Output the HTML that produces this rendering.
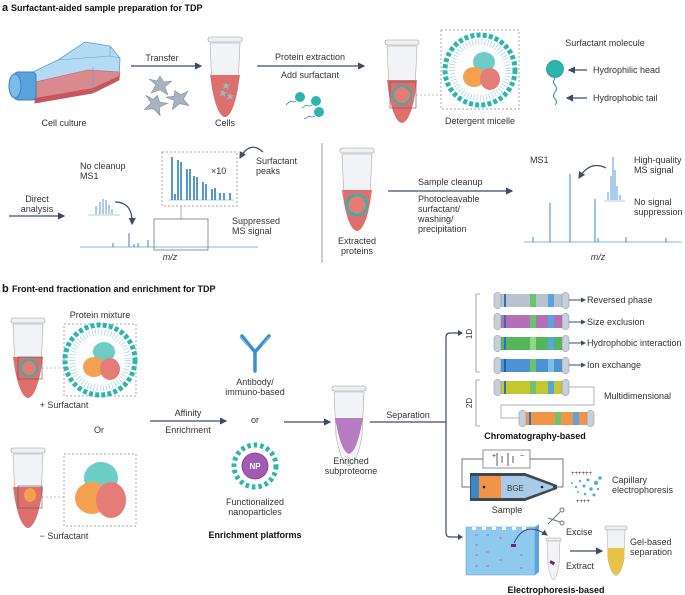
<!DOCTYPE html>
<html><head><meta charset="utf-8"><style>
html,body{margin:0;padding:0;background:#fff;}
svg{display:block;font-family:"Liberation Sans",sans-serif;}
text{font-size:9px;fill:#333;}
.b{font-weight:bold;fill:#111;}
</style></head><body>
<svg width="685" height="595" viewBox="0 0 685 595" xmlns="http://www.w3.org/2000/svg">
<defs>
<marker id="ar" markerWidth="6" markerHeight="6" refX="5" refY="3" orient="auto"><path d="M0,0 L6,3 L0,6 z" fill="#3c4a6b"/></marker>
<g id="tube">
 <rect x="-17" y="0" width="34" height="5" rx="2" fill="#eef0f2" stroke="#999" stroke-width="0.6"/>
 <path d="M-15,6 L15,6 L13,50 Q8,78 0,80 Q-8,78 -13,50 Z" fill="#f1f3f6" stroke="#aaa" stroke-width="0.6"/>
</g>
<g id="micelle">
 <circle r="35" fill="none" stroke="#2bb5ad" stroke-width="5" stroke-dasharray="4 2.2"/>
 <circle r="28" fill="none" stroke="#8ccfd0" stroke-width="6" stroke-dasharray="0.6 2.5"/>
 <ellipse cx="4" cy="-8" rx="11" ry="10" fill="#6dcdc6"/>
 <ellipse cx="-6" cy="7" rx="11" ry="10" fill="#f4a04f"/>
 <ellipse cx="10" cy="9" rx="10" ry="11" fill="#e47c78"/>
</g>
<path id="cell" d="M0,-9 L4,-3 L12,-4 L5,2 L8,10 L0,5 L-9,8 L-4,0 L-11,-6 L-3,-4 Z" fill="#aab2bf" stroke="#7a8291" stroke-width="0.5"/>
</defs>

<!-- PANEL A -->
<text x="2" y="11" class="b" style="font-size:11px">a</text>
<text x="11" y="11" class="b">Surfactant-aided sample preparation for TDP</text>

<!-- flask -->
<path d="M33,72 L58,60 L85,42 L110,46 L120,58 L119,80 L93,93 L35,103 Z" fill="#b4dbf3" stroke="#5a9ed3" stroke-width="0.8"/>
<path d="M35,82 L88,70 L120,72 L119,80 L93,93 L35,103 Z" fill="#d98a8f" stroke="#c15b60" stroke-width="0.6"/>
<path d="M35,98 L93,88 L119,76 L119,80 L93,93 L35,103 Z" fill="#c9555c"/>
<path d="M58,60 L110,56 L120,58 M110,46 L110,56 M93,93 L93,67" fill="none" stroke="#5a9ed3" stroke-width="0.6"/>
<rect x="14" y="72" width="22" height="28" rx="4" fill="#5aa4de" stroke="#3a7fc0"/>
<ellipse cx="15" cy="86" rx="6" ry="12" fill="#7bbbe9" stroke="#3a7fc0"/>
<text x="64" y="126" text-anchor="middle">Cell culture</text>

<line x1="131" y1="66" x2="201" y2="66" stroke="#3c4a6b" stroke-width="1.2" marker-end="url(#ar)"/>
<text x="162" y="61" text-anchor="middle">Transfer</text>
<use href="#cell" x="160" y="85"/>
<use href="#cell" x="155" y="104" transform="rotate(15 155 104)"/>
<use href="#cell" x="178" y="99" transform="rotate(-20 178 99)"/>

<use href="#tube" x="225" y="37"/>
<path d="M210,75 L240,75 L238,87 Q233,116 225,117 Q217,116 212,87 Z" fill="#df6f6c"/>
<g transform="translate(226,86) scale(0.4)"><use href="#cell" x="0" y="0"/><use href="#cell" x="-8" y="18"/><use href="#cell" x="10" y="26"/></g>
<text x="225" y="126" text-anchor="middle">Cells</text>

<line x1="257" y1="66" x2="364" y2="66" stroke="#3c4a6b" stroke-width="1.2" marker-end="url(#ar)"/>
<text x="310" y="60" text-anchor="middle">Protein extraction</text>
<text x="310" y="78" text-anchor="middle">Add surfactant</text>
<g fill="#2bb5ad"><circle cx="300" cy="97" r="5"/><circle cx="316" cy="101" r="5"/><circle cx="319" cy="112" r="5"/></g>
<g stroke="#2b8ca8" fill="none" stroke-width="0.8"><path d="M296,101 q-3,2 -5,0 q-3,2 -5,4"/><path d="M312,105 q-3,2 -6,0 q-2,2 -4,3"/><path d="M315,116 q-3,2 -6,0 q-2,2 -5,3"/></g>

<use href="#tube" x="402" y="40"/>
<path d="M387,80 L417,80 L415,95 Q410,122 402,123 Q394,122 389,95 Z" fill="#df6f6c"/>
<circle cx="402" cy="95" r="9" fill="#e77b74" stroke="#2bb5ad" stroke-width="2"/>
<rect x="390" y="82" width="26" height="26" fill="none" stroke="#555" stroke-width="0.6"/>
<line x1="416" y1="95" x2="441" y2="95" stroke="#888" stroke-dasharray="2 2" stroke-width="0.6"/>
<rect x="441" y="30" width="78" height="79" fill="none" stroke="#888" stroke-dasharray="2 2" stroke-width="0.7"/>
<use href="#micelle" x="480" y="70"/>
<text x="480" y="124" text-anchor="middle">Detergent micelle</text>

<text x="605" y="46" text-anchor="middle">Surfactant molecule</text>
<circle cx="555" cy="69" r="8.5" fill="#2bb5ad" stroke="#1c8f88" stroke-width="0.7"/>
<path d="M555,78 q-3,4 0,7 q3,4 0,7 q-3,4 0,7 q3,3 0,6" fill="none" stroke="#2b8ca8" stroke-width="1"/>
<line x1="587" y1="70" x2="569" y2="70" stroke="#3c4a6b" stroke-width="1.2" marker-end="url(#ar)"/>
<line x1="587" y1="98" x2="567" y2="98" stroke="#3c4a6b" stroke-width="1.2" marker-end="url(#ar)"/>
<text x="593" y="73">Hydrophilic head</text>
<text x="593" y="101">Hydrophobic tail</text>

<!-- row 2 left -->
<text x="80" y="169">No cleanup</text>
<text x="80" y="179">MS1</text>
<text x="37" y="202" text-anchor="middle">Direct</text>
<text x="37" y="212" text-anchor="middle">analysis</text>
<line x1="9" y1="216" x2="64" y2="216" stroke="#3c4a6b" stroke-width="1.2" marker-end="url(#ar)"/>
<g stroke="#5a9bd5" stroke-width="1">
<line x1="96" y1="214" x2="96" y2="206"/><line x1="100" y1="214" x2="100" y2="202"/><line x1="103" y1="214" x2="103" y2="199"/><line x1="106" y1="214" x2="106" y2="200"/><line x1="109" y1="214" x2="109" y2="205"/><line x1="112" y1="214" x2="112" y2="209"/>
</g>
<line x1="88" y1="215" x2="120" y2="215" stroke="#5a9bd5" stroke-width="0.6"/>
<path d="M115,202 Q133,202 132,224" fill="none" stroke="#3c4a6b" stroke-width="1.2" marker-end="url(#ar)"/>
<line x1="80" y1="247" x2="258" y2="247" stroke="#5a9bd5" stroke-width="0.8"/>
<g stroke="#3b86c8" stroke-width="1">
<line x1="113" y1="247" x2="113" y2="243"/><line x1="129" y1="247" x2="129" y2="233"/><line x1="134" y1="247" x2="134" y2="244"/><line x1="138" y1="247" x2="138" y2="243"/><line x1="148" y1="247" x2="148" y2="240"/>
</g>
<rect x="154" y="219" width="54" height="31" fill="none" stroke="#666" stroke-width="0.7"/>
<line x1="181" y1="206" x2="181" y2="219" stroke="#888" stroke-width="0.7"/>
<rect x="162" y="152" width="75" height="54" fill="none" stroke="#888" stroke-dasharray="2 2" stroke-width="0.7"/>
<g stroke="#2f7fc4" stroke-width="1.6">
<line x1="172" y1="200" x2="172" y2="157"/><line x1="175" y1="200" x2="175" y2="194"/><line x1="178" y1="200" x2="178" y2="160"/><line x1="181" y1="200" x2="181" y2="162"/><line x1="187" y1="200" x2="187" y2="169"/><line x1="190" y1="200" x2="190" y2="169"/><line x1="194" y1="200" x2="194" y2="176"/><line x1="197" y1="200" x2="197" y2="177"/><line x1="203" y1="200" x2="203" y2="182"/><line x1="206" y1="200" x2="206" y2="184"/><line x1="212" y1="200" x2="212" y2="189"/><line x1="215" y1="200" x2="215" y2="188"/><line x1="220" y1="200" x2="220" y2="193"/><line x1="224" y1="200" x2="224" y2="193"/><line x1="230" y1="200" x2="230" y2="193"/>
</g>
<line x1="168" y1="200" x2="234" y2="200" stroke="#5a9bd5" stroke-width="0.6"/>
<text x="211" y="174">×10</text>
<path d="M263,152 Q250,140 240,158" fill="none" stroke="#3c4a6b" stroke-width="1.2" marker-end="url(#ar)"/>
<text x="256" y="164">Surfactant</text>
<text x="256" y="174">peaks</text>
<text x="232" y="224">Suppressed</text>
<text x="232" y="234">MS signal</text>
<text x="170" y="260" text-anchor="middle" font-style="italic">m/z</text>

<line x1="322" y1="143" x2="322" y2="263" stroke="#777" stroke-width="0.7"/>

<!-- row 2 right -->
<use href="#tube" x="357" y="148"/>
<path d="M342,190 L372,190 L370,203 Q365,230 357,231 Q349,230 344,203 Z" fill="#df6f6c"/>
<circle cx="357" cy="205" r="10" fill="#e77b74" stroke="#2bb5ad" stroke-width="2.5"/>
<text x="357" y="244" text-anchor="middle">Extracted</text>
<text x="357" y="254" text-anchor="middle">proteins</text>
<line x1="388" y1="191" x2="512" y2="191" stroke="#3c4a6b" stroke-width="1.2" marker-end="url(#ar)"/>
<text x="418" y="185">Sample cleanup</text>
<text x="418" y="202">Photocleavable</text>
<text x="418" y="212">surfactant/</text>
<text x="418" y="222">washing/</text>
<text x="418" y="232">precipitation</text>
<text x="530" y="163">MS1</text>
<line x1="524" y1="242" x2="682" y2="242" stroke="#5a9bd5" stroke-width="0.8"/>
<g stroke="#3b86c8" stroke-width="1">
<line x1="550" y1="242" x2="550" y2="203"/><line x1="570" y1="242" x2="570" y2="174"/><line x1="595" y1="242" x2="595" y2="199"/><line x1="533" y1="242" x2="533" y2="237"/><line x1="626" y1="242" x2="626" y2="237"/><line x1="666" y1="242" x2="666" y2="238"/><line x1="598" y1="242" x2="598" y2="238"/>
</g>
<g stroke="#5a9bd5" stroke-width="1">
<line x1="608" y1="200" x2="608" y2="192"/><line x1="611" y1="200" x2="611" y2="176"/><line x1="613" y1="200" x2="613" y2="157"/><line x1="615" y1="200" x2="615" y2="170"/><line x1="617" y1="200" x2="617" y2="186"/><line x1="620" y1="200" x2="620" y2="195"/>
</g>
<line x1="604" y1="201" x2="625" y2="201" stroke="#5a9bd5" stroke-width="0.6"/>
<path d="M606,168 Q590,160 579,178" fill="none" stroke="#3c4a6b" stroke-width="1.2" marker-end="url(#ar)"/>
<text x="634" y="163">High-quality</text>
<text x="634" y="173">MS signal</text>
<text x="634" y="205">No signal</text>
<text x="634" y="215">suppression</text>
<text x="598" y="260" text-anchor="middle" font-style="italic">m/z</text>

<!-- PANEL B -->
<text x="2" y="292" class="b" style="font-size:11px">b</text>
<text x="12" y="292" class="b">Front-end fractionation and enrichment for TDP</text>

<use href="#tube" x="28" y="318"/>
<path d="M13,357 L43,357 L41,370 Q36,396 28,398 Q20,396 15,370 Z" fill="#df6f6c"/>
<circle cx="29" cy="368" r="8" fill="#e77b74" stroke="#2bb5ad" stroke-width="2"/>
<rect x="18" y="357" width="24" height="22" fill="none" stroke="#555" stroke-width="0.6"/>
<line x1="42" y1="368" x2="64" y2="368" stroke="#888" stroke-dasharray="2 2" stroke-width="0.6"/>
<rect x="64" y="324" width="72" height="72" fill="none" stroke="#888" stroke-dasharray="2 2" stroke-width="0.7"/>
<use href="#micelle" x="100" y="360"/>
<text x="100" y="318" text-anchor="middle">Protein mixture</text>
<text x="64" y="408" text-anchor="middle">+ Surfactant</text>
<text x="99" y="433" text-anchor="middle">Or</text>

<use href="#tube" x="28" y="448"/>
<path d="M13,487 L43,487 L41,500 Q36,526 28,528 Q20,526 15,500 Z" fill="#df6f6c"/>
<ellipse cx="30" cy="495" rx="6" ry="7" fill="#f4a04f"/>
<rect x="18" y="486" width="24" height="22" fill="none" stroke="#555" stroke-width="0.6"/>
<line x1="42" y1="497" x2="64" y2="497" stroke="#888" stroke-dasharray="2 2" stroke-width="0.6"/>
<rect x="64" y="454" width="72" height="72" fill="none" stroke="#888" stroke-dasharray="2 2" stroke-width="0.7"/>
<ellipse cx="101" cy="478" rx="17" ry="16" fill="#6dcdc6"/>
<ellipse cx="92" cy="498" rx="17" ry="16" fill="#f4a04f"/>
<ellipse cx="111" cy="500" rx="15" ry="18" fill="#e47c78"/>
<text x="64" y="539" text-anchor="middle">− Surfactant</text>

<line x1="150" y1="421" x2="226" y2="421" stroke="#3c4a6b" stroke-width="1.2" marker-end="url(#ar)"/>
<text x="188" y="416" text-anchor="middle">Affinity</text>
<text x="188" y="433" text-anchor="middle">Enrichment</text>

<g stroke="#3b8fd0" stroke-width="3.5" fill="none" stroke-linecap="round">
<path d="M255,371 L255,352 L242,336"/><path d="M255,352 L269,336"/></g>
<g stroke="#7cbde9" stroke-width="1.5" fill="none"><path d="M247,345 L240,337"/><path d="M263,345 L270,337"/></g>
<text x="255" y="385" text-anchor="middle">Antibody/</text>
<text x="255" y="395" text-anchor="middle">immuno-based</text>
<text x="255" y="423" text-anchor="middle">or</text>
<circle cx="255" cy="466" r="21" fill="none" stroke="#2bb5ad" stroke-width="5" stroke-dasharray="3.5 3"/>
<circle cx="255" cy="466" r="13" fill="#a25ab2" stroke="#7e3a90" stroke-width="0.8"/>
<text x="255" y="469" text-anchor="middle" style="fill:#fff;font-weight:bold;font-size:8px">NP</text>
<text x="255" y="505" text-anchor="middle">Functionalized</text>
<text x="255" y="515" text-anchor="middle">nanoparticles</text>
<text x="255" y="538" text-anchor="middle" class="b">Enrichment platforms</text>

<line x1="284" y1="422" x2="330" y2="422" stroke="#3c4a6b" stroke-width="1.2" marker-end="url(#ar)"/>
<use href="#tube" x="349" y="386"/>
<path d="M335,418 L363,418 L361,428 Q356,452 349,454 Q342,452 337,428 Z" fill="#b57dc0"/>
<text x="351" y="464" text-anchor="middle">Enriched</text>
<text x="351" y="474" text-anchor="middle">subproteome</text>
<line x1="370" y1="422" x2="446" y2="422" stroke="#3c4a6b" stroke-width="1.2"/>
<text x="408" y="418" text-anchor="middle">Separation</text>
<path d="M462,333 L450,333 Q446,333 446,337 L446,533 Q446,537 450,537 L462,537" fill="none" stroke="#3c4a6b" stroke-width="1.2"/>
<path d="M458,330 L463,333 L458,336 z M458,534 L463,537 L458,540 z" fill="#3c4a6b"/>

<path d="M480,294 L476,294 L476,372 L480,372" fill="none" stroke="#666" stroke-width="0.6"/>
<path d="M480,380 L476,380 L476,426 L480,426" fill="none" stroke="#666" stroke-width="0.6"/>
<text x="472" y="334" transform="rotate(-90 472 334)" text-anchor="middle" style="font-size:8px">1D</text>
<text x="472" y="403" transform="rotate(-90 472 403)" text-anchor="middle" style="font-size:8px">2D</text>

<g>
<g><rect x="498" y="294" width="67" height="13" fill="#b9c2cf"/><rect x="504" y="294" width="2" height="13" fill="#2f6fb7"/><rect x="530" y="294" width="6" height="13" fill="#6cc26d"/><rect x="548" y="294" width="6" height="13" fill="#5aa4de"/><rect x="494" y="292.5" width="7" height="16" rx="3" fill="#c6d0da" stroke="#889" stroke-width="0.5"/><rect x="562" y="292.5" width="7" height="16" rx="3" fill="#c6d0da" stroke="#889" stroke-width="0.5"/></g>
<g><rect x="498" y="315" width="67" height="13" fill="#b56fb5"/><rect x="504" y="315" width="2" height="13" fill="#2f6fb7"/><rect x="530" y="315" width="6" height="13" fill="#6cc26d"/><rect x="548" y="315" width="6" height="13" fill="#5aa4de"/><rect x="494" y="313.5" width="7" height="16" rx="3" fill="#c6d0da" stroke="#889" stroke-width="0.5"/><rect x="562" y="313.5" width="7" height="16" rx="3" fill="#c6d0da" stroke="#889" stroke-width="0.5"/></g>
<g><rect x="498" y="337" width="67" height="13" fill="#55b55a"/><rect x="504" y="337" width="2" height="13" fill="#2f6fb7"/><rect x="530" y="337" width="6" height="13" fill="#8fd68a"/><rect x="548" y="337" width="6" height="13" fill="#5aa4de"/><rect x="494" y="335.5" width="7" height="16" rx="3" fill="#c6d0da" stroke="#889" stroke-width="0.5"/><rect x="562" y="335.5" width="7" height="16" rx="3" fill="#c6d0da" stroke="#889" stroke-width="0.5"/></g>
<g><rect x="498" y="359" width="67" height="13" fill="#4a94d3"/><rect x="504" y="359" width="2" height="13" fill="#1f5fa7"/><rect x="530" y="359" width="6" height="13" fill="#6cc26d"/><rect x="548" y="359" width="6" height="13" fill="#7cbde9"/><rect x="494" y="357.5" width="7" height="16" rx="3" fill="#c6d0da" stroke="#889" stroke-width="0.5"/><rect x="562" y="357.5" width="7" height="16" rx="3" fill="#c6d0da" stroke="#889" stroke-width="0.5"/></g>
<g><rect x="498" y="381" width="67" height="13" fill="#c4c72f"/><rect x="504" y="381" width="2" height="13" fill="#2f6fb7"/><rect x="530" y="381" width="6" height="13" fill="#6cc26d"/><rect x="548" y="381" width="6" height="13" fill="#5aa4de"/><rect x="494" y="379.5" width="7" height="16" rx="3" fill="#c6d0da" stroke="#889" stroke-width="0.5"/><rect x="562" y="379.5" width="7" height="16" rx="3" fill="#c6d0da" stroke="#889" stroke-width="0.5"/></g>
<g><rect x="523" y="412" width="67" height="13" fill="#f29447"/><rect x="529" y="412" width="2" height="13" fill="#2f6fb7"/><rect x="555" y="412" width="6" height="13" fill="#6cc26d"/><rect x="573" y="412" width="6" height="13" fill="#5aa4de"/><rect x="519" y="410.5" width="7" height="16" rx="3" fill="#c6d0da" stroke="#889" stroke-width="0.5"/><rect x="587" y="410.5" width="7" height="16" rx="3" fill="#c6d0da" stroke="#889" stroke-width="0.5"/></g>
</g>
<g stroke="#3c4a6b" stroke-width="1"><line x1="569" y1="300" x2="582" y2="300"/><line x1="569" y1="322" x2="582" y2="322"/><line x1="569" y1="343" x2="582" y2="343"/><line x1="569" y1="365" x2="582" y2="365"/></g>
<g fill="#3c4a6b"><path d="M581,297.5 L586,300 L581,302.5z"/><path d="M581,319.5 L586,322 L581,324.5z"/><path d="M581,340.5 L586,343 L581,345.5z"/><path d="M581,362.5 L586,365 L581,367.5z"/></g>
<text x="587" y="303">Reversed phase</text>
<text x="587" y="325">Size exclusion</text>
<text x="587" y="346">Hydrophobic interaction</text>
<text x="587" y="368">Ion exchange</text>
<path d="M569,387 L594,387 L594,405 L501,405 L501,418 L519,418" fill="none" stroke="#999" stroke-width="0.7"/>
<text x="604" y="399">Multidimensional</text>
<text x="535" y="439" text-anchor="middle" class="b">Chromatography-based</text>

<rect x="483" y="450" width="47" height="18" fill="#fff" stroke="#666" stroke-width="0.7"/>
<text x="492" y="458" style="font-size:7px">+</text><text x="520" y="458" style="font-size:7px">−</text>
<g stroke="#333" stroke-width="0.8"><line x1="497" y1="453" x2="497" y2="466"/><line x1="502" y1="456" x2="502" y2="463"/><line x1="508" y1="453" x2="508" y2="466"/><line x1="513" y1="456" x2="513" y2="463"/></g>
<path d="M483,459 L462,459 L462,487 L484,487" fill="none" stroke="#444" stroke-width="0.7"/>
<path d="M530,459 L563,459 L563,487 L542,487" fill="none" stroke="#444" stroke-width="0.7"/>
<path d="M470,473 L525,473 L557,485 L557,489 L525,501 L470,501 Z" fill="#3f4752"/>
<path d="M471,476 L525,476 L553,486 L553,488 L525,498 L471,498 Z" fill="#a9cbe8"/>
<rect x="471" y="476" width="8" height="22" fill="#3f86c8"/>
<rect x="479" y="476" width="22" height="22" fill="#f29447"/>
<circle cx="484" cy="487" r="1.3" fill="#222"/><circle cx="542" cy="487" r="1.3" fill="#222"/>
<text x="507" y="491" style="font-size:8px">BGE</text>
<g fill="#5aa4de">
<circle cx="572" cy="483" r="1"/><circle cx="576" cy="487" r="1.2"/><circle cx="580" cy="481" r="1.2"/><circle cx="584" cy="486" r="1.5"/><circle cx="588" cy="480" r="1.5"/><circle cx="591" cy="489" r="1.7"/><circle cx="596" cy="483" r="2"/><circle cx="600" cy="478" r="1.7"/><circle cx="578" cy="492" r="1"/><circle cx="585" cy="494" r="1.3"/><circle cx="594" cy="495" r="1.5"/><circle cx="598" cy="489" r="1.2"/>
</g>
<text x="571" y="475" style="font-size:6px">++++++</text><text x="576" y="503" style="font-size:6px">++++</text>
<text x="612" y="483">Capillary</text>
<text x="612" y="493">electrophoresis</text>
<text x="507" y="513" text-anchor="middle">Sample</text>

<path d="M466,527 L535,527 L535,575 L466,575 Z" fill="#8ec9ee" stroke="#5aa4de" stroke-width="0.6"/>
<path d="M535,527 L539,524 L539,572 L535,575 Z" fill="#5aa4de"/>
<g fill="#fff"><rect x="472" y="527" width="4" height="3"/><rect x="482" y="527" width="4" height="3"/><rect x="492" y="527" width="4" height="3"/><rect x="502" y="527" width="4" height="3"/><rect x="512" y="527" width="4" height="3"/><rect x="522" y="527" width="4" height="3"/></g>
<g stroke="#c04fa7" stroke-width="0.8">
<line x1="475" y1="535" x2="478" y2="535"/><line x1="486" y1="535" x2="489" y2="535"/><line x1="499" y1="538" x2="502" y2="538"/><line x1="475" y1="545" x2="478" y2="545"/><line x1="486" y1="552" x2="489" y2="552"/><line x1="475" y1="555" x2="478" y2="555"/><line x1="499" y1="560" x2="502" y2="560"/><line x1="475" y1="566" x2="478" y2="566"/><line x1="486" y1="566" x2="489" y2="566"/><line x1="520" y1="555" x2="523" y2="555"/><line x1="520" y1="568" x2="523" y2="568"/>
</g>
<rect x="511" y="544" width="5" height="3" fill="#6b2a70"/>
<path d="M514,543 Q525,520 547,535" fill="none" stroke="#3c4a6b" stroke-width="1" marker-end="url(#ar)"/>
<g stroke="#6b7585" stroke-width="1" fill="none"><line x1="548" y1="524" x2="560" y2="512"/><line x1="548" y1="518" x2="560" y2="522"/><circle cx="562" cy="510" r="2"/><circle cx="562" cy="523" r="2"/></g>
<text x="566" y="535">Excise</text>
<rect x="546" y="538" width="15" height="3" rx="1" fill="#eee" stroke="#999" stroke-width="0.5"/>
<path d="M547,541 L560,541 L559,565 Q556,580 553.5,580 Q551,580 548,565 Z" fill="#f1f3f6" stroke="#aaa" stroke-width="0.5"/>
<rect x="550" y="561" width="5" height="3" fill="#6b2a70" transform="rotate(30 552 562)"/>
<text x="566" y="569">Extract</text>
<line x1="570" y1="551" x2="602" y2="551" stroke="#3c4a6b" stroke-width="1.2" marker-end="url(#ar)"/>
<rect x="605" y="526" width="22" height="4" rx="1.5" fill="#eef0f2" stroke="#999" stroke-width="0.5"/>
<path d="M607,530 L625,530 L624,560 Q620,576 616,576 Q612,576 608,560 Z" fill="#f1f3f6" stroke="#aaa" stroke-width="0.5"/>
<path d="M607.5,548 L624.5,548 L624,560 Q620,575 616,575 Q612,575 608,560 Z" fill="#e9c24a"/>
<text x="630" y="545">Gel-based</text>
<text x="630" y="555">separation</text>
<text x="556" y="593" text-anchor="middle" class="b">Electrophoresis-based</text>
</svg>
</body></html>
